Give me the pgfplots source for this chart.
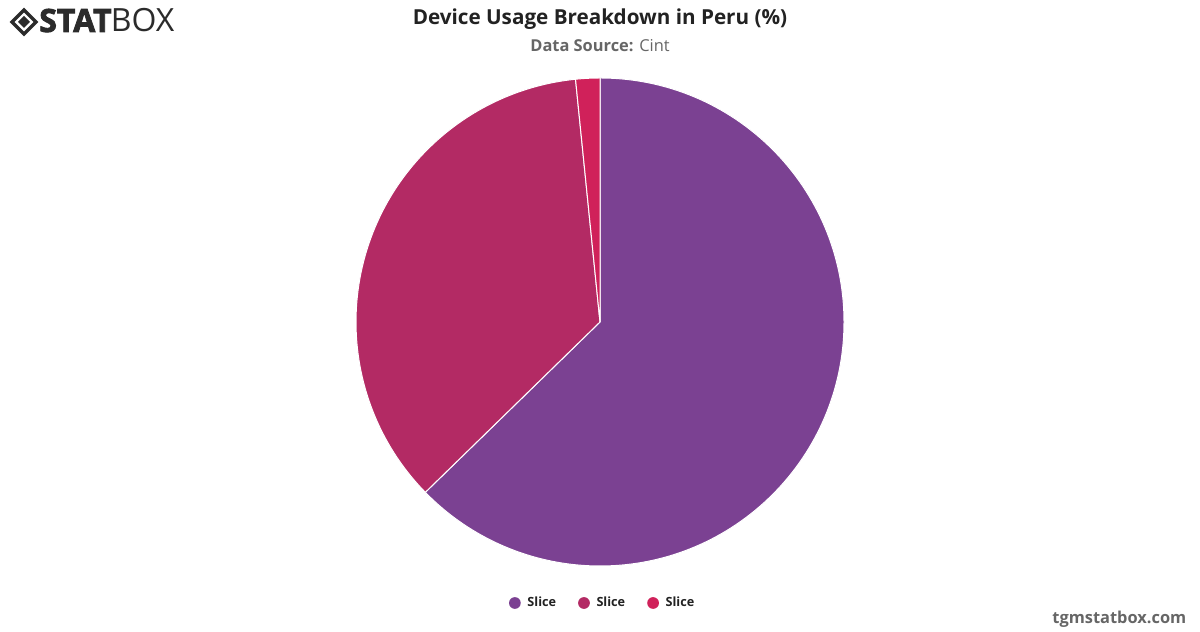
\documentclass[border=0pt]{standalone}
\usepackage{pgfplots}
\usepackage{pgfplotstable}
\usepackage{fontspec}
\pgfplotsset{compat=1.18}
\setmainfont{Open Sans}
\newfontfamily\logoheavy{Open Sans}[BoldFeatures={FakeBold=2.5}]

\definecolor{c0}{HTML}{7B4192}
\definecolor{c1}{HTML}{B32A64}
\definecolor{c2}{HTML}{D0215A}
\definecolor{titlegray}{HTML}{222222}
\definecolor{subgray}{HTML}{666666}
\definecolor{logodark}{HTML}{2B2B2B}

% shares in percent, clockwise from 12 o'clock
\pgfplotstableread{
slice share
0 62.7
1 35.7
2 1.6
}\piedata

\begin{document}
\begin{tikzpicture}
\begin{axis}[
    x=0.75pt, y=0.75pt,
    xmin=0, xmax=1200, ymin=0, ymax=630,
    hide axis,
    clip=false,
    legend columns=3,
    legend style={at={(axis cs:603,27)}, anchor=center, draw=none, fill=none,
        font=\fontsize{9.5}{11}\selectfont\bfseries\color{titlegray},
        /tikz/every odd column/.append style={column sep=3pt},
        /tikz/every even column/.append style={column sep=14.5pt}},
    legend image code/.code={\fill[#1, draw=none] (0.3em,0pt) circle (4.4pt);},
]
\fill[white] (axis cs:0,0) rectangle (axis cs:1200,630);

\pgfmathsetmacro\cum{0}
\pgfplotsforeachungrouped \i in {0,1,2}{
    \pgfplotstablegetelem{\i}{share}\of\piedata
    \pgfmathsetmacro\a{90-3.6*\cum}
    \pgfmathsetmacro\cum{\cum+\pgfplotsretval}
    \pgfmathsetmacro\b{90-3.6*\cum}
    \edef\temp{\noexpand\fill[c\i, draw=white, line width=0.75pt, line join=round]
        (axis cs:600,308) -- ++(\a:183pt) arc[start angle=\a, end angle=\b, radius=183pt] -- cycle;}
    \temp
}

\addlegendimage{fill=c0}
\addlegendentry{Slice}
\addlegendimage{fill=c1}
\addlegendentry{Slice}
\addlegendimage{fill=c2}
\addlegendentry{Slice}

% titles
\node[font=\fontsize{15.5}{17}\selectfont\bfseries, text=titlegray] at (axis cs:600,610.5) {Device Usage Breakdown in Peru (\%)};
\node[font=\fontsize{12.3}{14}\selectfont, text=subgray] at (axis cs:600,584.5) {\textbf{Data Source:} Cint};
\node[font=\fontsize{12.3}{14}\selectfont\bfseries, text=subgray, anchor=east] at (axis cs:1191,11) {tgmstatbox.com};

% logo
\draw[logodark, line width=2.6pt, line join=miter] (axis cs:24,620) -- (axis cs:36,608) -- (axis cs:24,596) -- (axis cs:12,608) -- cycle;
\fill[logodark] (axis cs:24,614) -- (axis cs:30,608) -- (axis cs:24,602) -- (axis cs:18,608) -- cycle;
\node[anchor=base west, inner sep=0pt, font=\fontsize{24}{24}\selectfont, text=logodark] at (axis cs:39,598)
    {{\logoheavy\bfseries STAT}\hspace{-0.5pt}BOX};
\end{axis}
\end{tikzpicture}
\end{document}
